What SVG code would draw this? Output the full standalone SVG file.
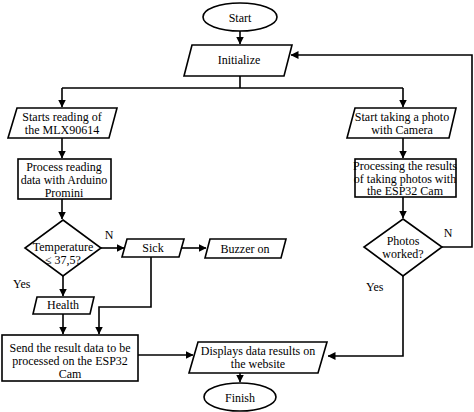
<svg xmlns="http://www.w3.org/2000/svg" width="474" height="412" viewBox="0 0 474 412">
<style>
.s{fill:#fff;stroke:#000;stroke-width:1.6}
.c{fill:none;stroke:#000;stroke-width:1.6}
text{font-family:'Liberation Serif','Times New Roman',Times,serif;font-size:12px;fill:#000;text-anchor:middle}
.l{text-anchor:start}
</style>
<defs>
<marker id="a" markerWidth="8" markerHeight="8" refX="7.5" refY="4" orient="auto" markerUnits="userSpaceOnUse">
<path d="M0,0 L8,4 L0,8 Z" fill="#000"/>
</marker>
</defs>
<rect width="474" height="412" fill="#fff"/>
<g id="connectors">
<path class="c" d="M240,31 V44" marker-end="url(#a)"/>
<path class="c" d="M240,76 V88 M62,88 H403"/>
<path class="c" d="M62,88 V107" marker-end="url(#a)"/>
<path class="c" d="M403,88 V107" marker-end="url(#a)"/>
<path class="c" d="M62,138 V158" marker-end="url(#a)"/>
<path class="c" d="M62,199 V219" marker-end="url(#a)"/>
<path class="c" d="M101,248 H124" marker-end="url(#a)"/>
<path class="c" d="M181,248 H206" marker-end="url(#a)"/>
<path class="c" d="M151,257 V307 H99 V334" marker-end="url(#a)"/>
<path class="c" d="M63,276 V296" marker-end="url(#a)"/>
<path class="c" d="M63,314 V334" marker-end="url(#a)"/>
<path class="c" d="M138,355 H193" marker-end="url(#a)"/>
<path class="c" d="M240,373 V382" marker-end="url(#a)"/>
<path class="c" d="M403,138 V158" marker-end="url(#a)"/>
<path class="c" d="M403,197 V218" marker-end="url(#a)"/>
<path class="c" d="M442,247 H472 V55 H291" marker-end="url(#a)"/>
<path class="c" d="M403,276 V356 H328" marker-end="url(#a)"/>
<text x="109" y="239">N</text>
<text class="l" x="13" y="288">Yes</text>
<text x="448" y="237">N</text>
<text class="l" x="366" y="291">Yes</text>
</g>
<g id="start">
<ellipse class="s" cx="240" cy="17" rx="37" ry="14"/>
<text x="240" y="22">Start</text>
</g>
<g id="initialize">
<polygon class="s" points="192,45 292,45 284,76 184,76"/>
<text x="239" y="64">Initialize</text>
</g>
<g id="mlx">
<polygon class="s" points="17,108 117,108 109,138 8,138"/>
<text x="62" y="121">Starts reading of</text>
<text x="62" y="134">the MLX90614</text>
</g>
<g id="process">
<rect class="s" x="18" y="159" width="93" height="40"/>
<text x="64" y="171">Process reading</text>
<text x="64" y="184">data with Arduino</text>
<text x="64" y="197">Promini</text>
</g>
<g id="temp">
<polygon class="s" points="63,220 101,248 63,276 25,248"/>
<text x="63" y="251">Temperature</text>
<text x="63" y="264">≤ 37,5?</text>
</g>
<g id="sick">
<polygon class="s" points="127,239 184,239 179,257 122,257"/>
<text x="153" y="252">Sick</text>
</g>
<g id="buzzer">
<polygon class="s" points="210,239 286,239 281,258 205,258"/>
<text x="245" y="253">Buzzer on</text>
</g>
<g id="health">
<polygon class="s" points="37,297 94,297 90,314 33,314"/>
<text x="63" y="309">Health</text>
</g>
<g id="send">
<rect class="s" x="2" y="335" width="136" height="46"/>
<text x="70" y="352">Send the result data to be</text>
<text x="70" y="365">processed on the ESP32</text>
<text x="70" y="378">Cam</text>
</g>
<g id="displays">
<polygon class="s" points="198,342 327,342 318,373 189,373"/>
<text x="258" y="355">Displays data results on</text>
<text x="258" y="368">the website</text>
</g>
<g id="finish">
<ellipse class="s" cx="240" cy="397" rx="36" ry="14"/>
<text x="240" y="402">Finish</text>
</g>
<g id="camera">
<polygon class="s" points="355,108 456,108 449,138 347,138"/>
<text x="402" y="121">Start taking a photo</text>
<text x="402" y="134">with Camera</text>
</g>
<g id="processing">
<rect class="s" x="355" y="159" width="101" height="38"/>
<text x="405" y="170">Processing the results</text>
<text x="405" y="182.5">of taking photos with</text>
<text x="405" y="195">the ESP32 Cam</text>
</g>
<g id="photos">
<polygon class="s" points="403,219 442,247 403,276 364,247"/>
<text x="403" y="245">Photos</text>
<text x="403" y="258">worked?</text>
</g>
</svg>
